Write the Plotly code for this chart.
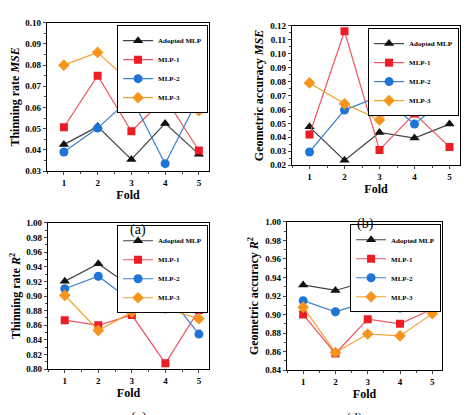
import plotly.graph_objects as go

folds = [1, 2, 3, 4, 5]
names = ["Adopted MLP", "MLP-1", "MLP-2", "MLP-3"]
a_vals = [[0.0425, 0.051, 0.0355, 0.0525, 0.038],
          [0.0507, 0.075, 0.0488, 0.0645, 0.0397],
          [0.039, 0.0503, 0.0647, 0.0335, 0.0648],
          [0.080, 0.086, 0.0715, 0.0705, 0.0585]]
b_vals = [[0.0475, 0.0235, 0.0435, 0.0395, 0.0495],
          [0.042, 0.116, 0.031, 0.057, 0.033],
          [0.0295, 0.0595, 0.0695, 0.0495, 0.0695],
          [0.079, 0.064, 0.0525, 0.073, 0.0705]]
c_vals = [[0.920, 0.944, 0.912, 0.920, 0.927],
          [0.867, 0.860, 0.874, 0.808, 0.881],
          [0.910, 0.927, 0.893, 0.906, 0.848],
          [0.901, 0.853, 0.878, 0.883, 0.869]]
d_vals = [[0.932, 0.926, 0.936, 0.915, 0.966],
          [0.900, 0.858, 0.895, 0.890, 0.906],
          [0.915, 0.903, 0.914, 0.907, 0.929],
          [0.908, 0.859, 0.879, 0.877, 0.901]]

marker_col = ["#111111", "#ee1c25", "#1f74d6", "#f7941d"]
line_col = ["#444444", "#ee5560", "#3d7fd0", "#f0a030"]
symbols = ["triangle-up", "square", "circle", "diamond"]
msize = [9, 8, 9, 9]

W, H = 474, 415
def dx(a, b): return [a / W, b / W]
def dy(top, bot): return [1 - bot / H, 1 - top / H]

panels = [
    dict(vals=a_vals, xd=dx(39, 201), yd=dy(10, 162), yr=[0.03, 0.10], dt=0.01,
         title="Thinning rate <i>MSE</i>", cap="(a)", fmt=".2f"),
    dict(vals=b_vals, xd=dx(284, 452), yd=dy(13, 156), yr=[0.02, 0.12], dt=0.01,
         title="Geometric accuracy <i>MSE</i>", cap="(b)", fmt=".2f"),
    dict(vals=c_vals, xd=dx(40, 201), yd=dy(215, 365), yr=[0.80, 1.00], dt=0.02,
         title="Thinning rate <i>R</i><sup>2</sup>", cap="(c)", fmt=".2f"),
    dict(vals=d_vals, xd=dx(279, 434), yd=dy(214, 366), yr=[0.84, 1.00], dt=0.02,
         title="Geometric accuracy <i>R</i><sup>2</sup>", cap="(d)", fmt=".2f"),
]

font = dict(family="Liberation Serif", color="black")
fig = go.Figure()
layout = dict(width=W, height=H, margin=dict(l=0, r=0, t=0, b=0),
              plot_bgcolor="white", paper_bgcolor="white", font=font,
              showlegend=True, annotations=[])
for i, p in enumerate(panels):
    n = "" if i == 0 else str(i + 1)
    leg = "legend" + n
    for k in range(4):
        fig.add_trace(go.Scatter(
            x=folds, y=p["vals"][k], name="<b>" + names[k] + "</b>", mode="lines+markers",
            line=dict(color=line_col[k], width=1.2),
            marker=dict(color=marker_col[k], symbol=symbols[k], size=msize[k]),
            xaxis="x" + n, yaxis="y" + n, legend=leg))
    axc = dict(showline=True, linecolor="black", linewidth=1.2, mirror=True,
               ticks="outside", ticklen=3, showgrid=False, zeroline=False,
               tickfont=dict(size=9, family="Liberation Serif", weight="bold"))
    layout["xaxis" + n] = dict(axc, domain=p["xd"], range=[0.5, 5.3],
                               tickvals=folds, anchor="y" + n,
                               title=dict(text="<b>Fold</b>", font=dict(size=12), standoff=2),
                               minor=dict(ticks="outside", ticklen=2, dtick=0.5))
    layout["yaxis" + n] = dict(axc, domain=p["yd"], range=p["yr"], dtick=p["dt"],
                               tickformat=p["fmt"], anchor="x" + n,
                               title=dict(text="<b>" + p["title"] + "</b>", font=dict(size=12), standoff=4),
                               minor=dict(ticks="outside", ticklen=2, dtick=p["dt"] / 2))
    layout[leg] = dict(x=p["xd"][1] - 0.002,
                       xanchor="right", y=p["yd"][1] - 0.006, yanchor="top",
                       bordercolor="black", borderwidth=1, bgcolor="white",
                       font=dict(size=7, family="Liberation Serif"),
                       tracegroupgap=0, itemwidth=30)
    layout["annotations"].append(dict(text=p["cap"], x=sum(p["xd"]) / 2,
                                      y=p["yd"][0] - 0.145, xref="paper", yref="paper",
                                      showarrow=False, font=dict(size=14, family="Liberation Serif")))
fig.update_layout(**layout)
fig.write_html("out.html")
